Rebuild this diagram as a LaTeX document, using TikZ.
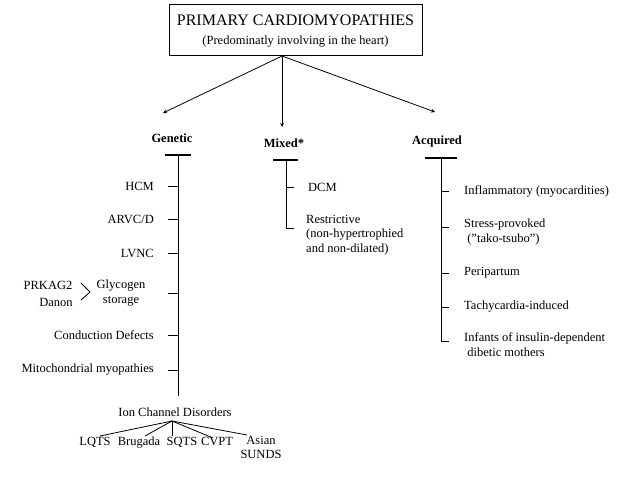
\documentclass[tikz,border=0pt]{standalone}
\usepackage{fontspec}
\setmainfont{Liberation Serif}
\begin{document}
\begin{tikzpicture}[x=1pt,y=-1pt,
  lbl/.style={font=\fontsize{12.5}{14.5}\selectfont,inner sep=0pt},
  hd/.style={font=\fontsize{12.5}{14}\selectfont\bfseries,inner sep=0pt},
  bar/.style={line width=2pt},
  ln/.style={line width=0.8pt},
  arr/.style={line width=0.8pt,-stealth}]
\useasboundingbox[fill=white] (0,0) rectangle (638,478);
\node[draw,line width=0.8pt,minimum width=253pt,minimum height=51pt,inner sep=0pt] (box) at (295.5,30) {};
\node[font=\fontsize{16}{18}\selectfont,inner sep=0pt] (t1) at (295.5,20) {PRIMARY CARDIOMYOPATHIES};
\node[lbl] (t2) at (295.5,42) {(Predominatly involving in the heart)};
\coordinate (src) at (282,56);
\coordinate (ag) at (163,113);
\coordinate (am) at (282,127);
\coordinate (aa) at (435,112);
\draw[arr] (src) -- (ag);
\draw[arr] (src) -- (am);
\draw[arr] (src) -- (aa);
% Genetic
\node[hd] (gen) at (172,138) {Genetic};
\coordinate (g0) at (178,155); \coordinate (g1) at (178,396);
\draw[bar] (165,155) -- (191,155);
\draw[ln] (g0) -- (g1);
\foreach \y/\t/\n in {186/HCM/hcm,219/{ARVC/D}/arvc,253/LVNC/lvnc,335/Conduction Defects/cond,370/Mitochondrial myopathies/mito}{
  \draw[ln] (168,\y) -- (178,\y);
  \node[lbl,anchor=east] (\n) at (154,\y) {\t};
}
\draw[ln] (168,293) -- (178,293);
\node[lbl,align=center] (gly) at (121,293) {Glycogen\\storage};
\node[lbl] (prk) at (48,285) {PRKAG2};
\node[lbl] (dan) at (56,302) {Danon};
\draw[ln] (81,283) -- (90,292) -- (81,300);
\node[lbl] (ion) at (175,412) {Ion Channel Disorders};
\coordinate (ip) at (172,421);
\node[lbl,anchor=north] (lq) at (95,437) {LQTS};
\node[lbl,anchor=north] (bru) at (139,437) {Brugada};
\node[lbl,anchor=north] (sq) at (182,437) {SQTS};
\node[lbl,anchor=north] (cv) at (217,437) {CVPT};
\node[lbl,anchor=north,align=center] (as) at (261,436) {Asian\\SUNDS};
\draw[ln] (ip) -- (100,436);
\draw[ln] (ip) -- (145,436);
\draw[ln] (ip) -- (172,436);
\draw[ln] (ip) -- (213,438);
\draw[ln] (ip) -- (247,435);
% Mixed
\node[hd] (mix) at (284,143) {Mixed*};
\draw[bar] (273,160) -- (298,160);
\draw[ln] (286,160) -- (286,228);
\draw[ln] (286,187) -- (294,187);
\draw[ln] (286,228) -- (294,228);
\node[lbl,anchor=west] (dcm) at (308,187) {DCM};
\node[lbl,anchor=north west,align=left] (res) at (306,215) {Restrictive\\(non-hypertrophied\\ and non-dilated)};
% Acquired
\node[hd] (acq) at (437,141) {Acquired};
\draw[bar] (425,158) -- (457,158);
\draw[ln] (441,158) -- (441,341);
\foreach \y in {191,227,273,307,341} \draw[ln] (441,\y) -- (449,\y);
\node[lbl,anchor=west] (inf) at (464,191) {Inflammatory (myocardities)};
\node[lbl,anchor=north west,align=left] (str) at (464,219) {Stress-provoked\\ \ ("tako-tsubo")};
\node[lbl,anchor=west] (per) at (464,273) {Peripartum};
\node[lbl,anchor=west] (tac) at (464,307) {Tachycardia-induced};
\node[lbl,anchor=north west,align=left] (inff) at (464,333) {Infants of insulin-dependent\\ \ dibetic mothers};
\end{tikzpicture}
\end{document}
